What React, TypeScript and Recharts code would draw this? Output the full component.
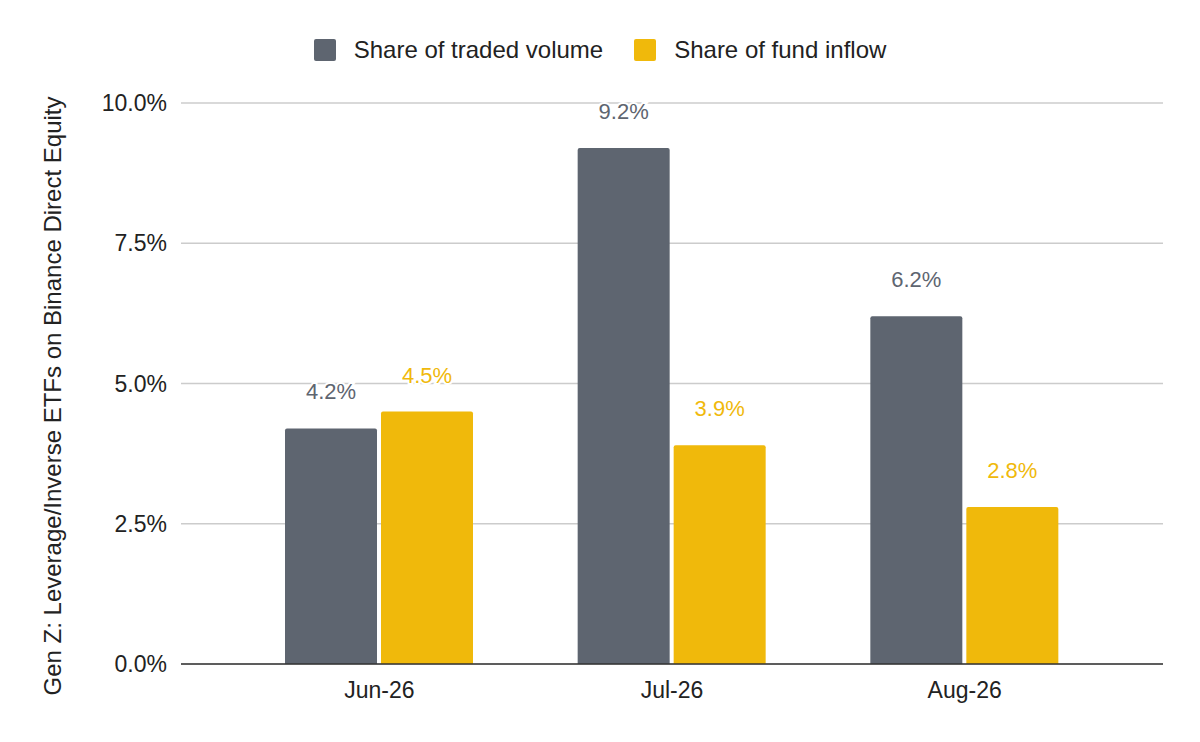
import {
	Bar,
	BarChart,
	CartesianGrid,
	LabelList,
	XAxis,
	YAxis,
} from "recharts";

const months = ["Jun-26", "Jul-26", "Aug-26"];
const tradedVolume = [4.2, 9.2, 6.2];
const fundInflow = [4.5, 3.9, 2.8];
const yTicks = [0, 2.5, 5, 7.5, 10];

const GRAY = "#5e6570";
const YELLOW = "#f0b90b";
const FONT = "'Liberation Sans', Arial, sans-serif";

const data = months.map((m, i) => ({
	name: m,
	volume: tradedVolume[i],
	inflow: fundInflow[i],
}));

const pct = (v: number) => `${v.toFixed(1)}%`;

const legendItems = [
	{ label: "Share of traded volume", color: GRAY },
	{ label: "Share of fund inflow", color: YELLOW },
];

const ChartLegend = () => (
	<div
		style={{
			position: "absolute",
			top: 36,
			left: 0,
			width: 1200,
			display: "flex",
			justifyContent: "center",
			alignItems: "center",
			gap: 31,
			fontFamily: FONT,
			fontSize: 24,
			color: "#222",
			zIndex: 1,
		}}
	>
		{legendItems.map((item) => (
			<div key={item.label} style={{ display: "flex", alignItems: "center" }}>
				<span
					style={{
						width: 22,
						height: 22,
						borderRadius: 2,
						background: item.color,
						marginRight: 18,
						display: "inline-block",
					}}
				/>
				<span>{item.label}</span>
			</div>
		))}
	</div>
);

const YTitle = () => (
	<text
		x={52}
		y={396}
		transform="rotate(-90 52 396)"
		textAnchor="middle"
		dominantBaseline="central"
		fontSize={24}
		fontFamily={FONT}
		fill="#222"
	>
		Gen Z: Leverage/Inverse ETFs on Binance Direct Equity
	</text>
);

const labelStyle = {
	fontSize: 22,
	fontFamily: FONT,
	stroke: "#fff",
	strokeWidth: 4,
	paintOrder: "stroke",
};

const App = () => {
	return (
		<div
			style={{
				position: "absolute",
				top: 0,
				left: 0,
				width: 1200,
				height: 742,
				background: "#fff",
			}}
		>
			<ChartLegend />
			<BarChart
				width={1200}
				height={742}
				data={data}
				margin={{ top: 103, right: 37, bottom: 48, left: 0 }}
				barGap={4}
				barSize={92}
			>
				<CartesianGrid vertical={false} stroke="#cccccc" strokeWidth={1.5} />
				<XAxis
					dataKey="name"
					height={30}
					padding={{ left: 52, right: 52 }}
					tickLine={false}
					axisLine={{ stroke: "#333", strokeWidth: 1.5 }}
					tick={{ fill: "#222", fontSize: 23, fontFamily: FONT }}
					tickMargin={12}
				/>
				<YAxis
					width={181}
					domain={[0, 10]}
					ticks={yTicks}
					tickFormatter={pct}
					axisLine={false}
					tickLine={false}
					tickMargin={8}
					tick={{ fill: "#222", fontSize: 23, fontFamily: FONT }}
					label={{ content: () => <YTitle /> }}
				/>
				<Bar
					dataKey="volume"
					fill={GRAY}
					radius={[2, 2, 0, 0]}
					isAnimationActive={false}
				>
					<LabelList
						dataKey="volume"
						position="top"
						offset={29}
						formatter={(v: number) => pct(v)}
						fill={GRAY}
						{...labelStyle}
					/>
				</Bar>
				<Bar
					dataKey="inflow"
					fill={YELLOW}
					radius={[2, 2, 0, 0]}
					isAnimationActive={false}
				>
					<LabelList
						dataKey="inflow"
						position="top"
						offset={29}
						formatter={(v: number) => pct(v)}
						fill={YELLOW}
						{...labelStyle}
					/>
				</Bar>
			</BarChart>
		</div>
	);
};

export default App;
